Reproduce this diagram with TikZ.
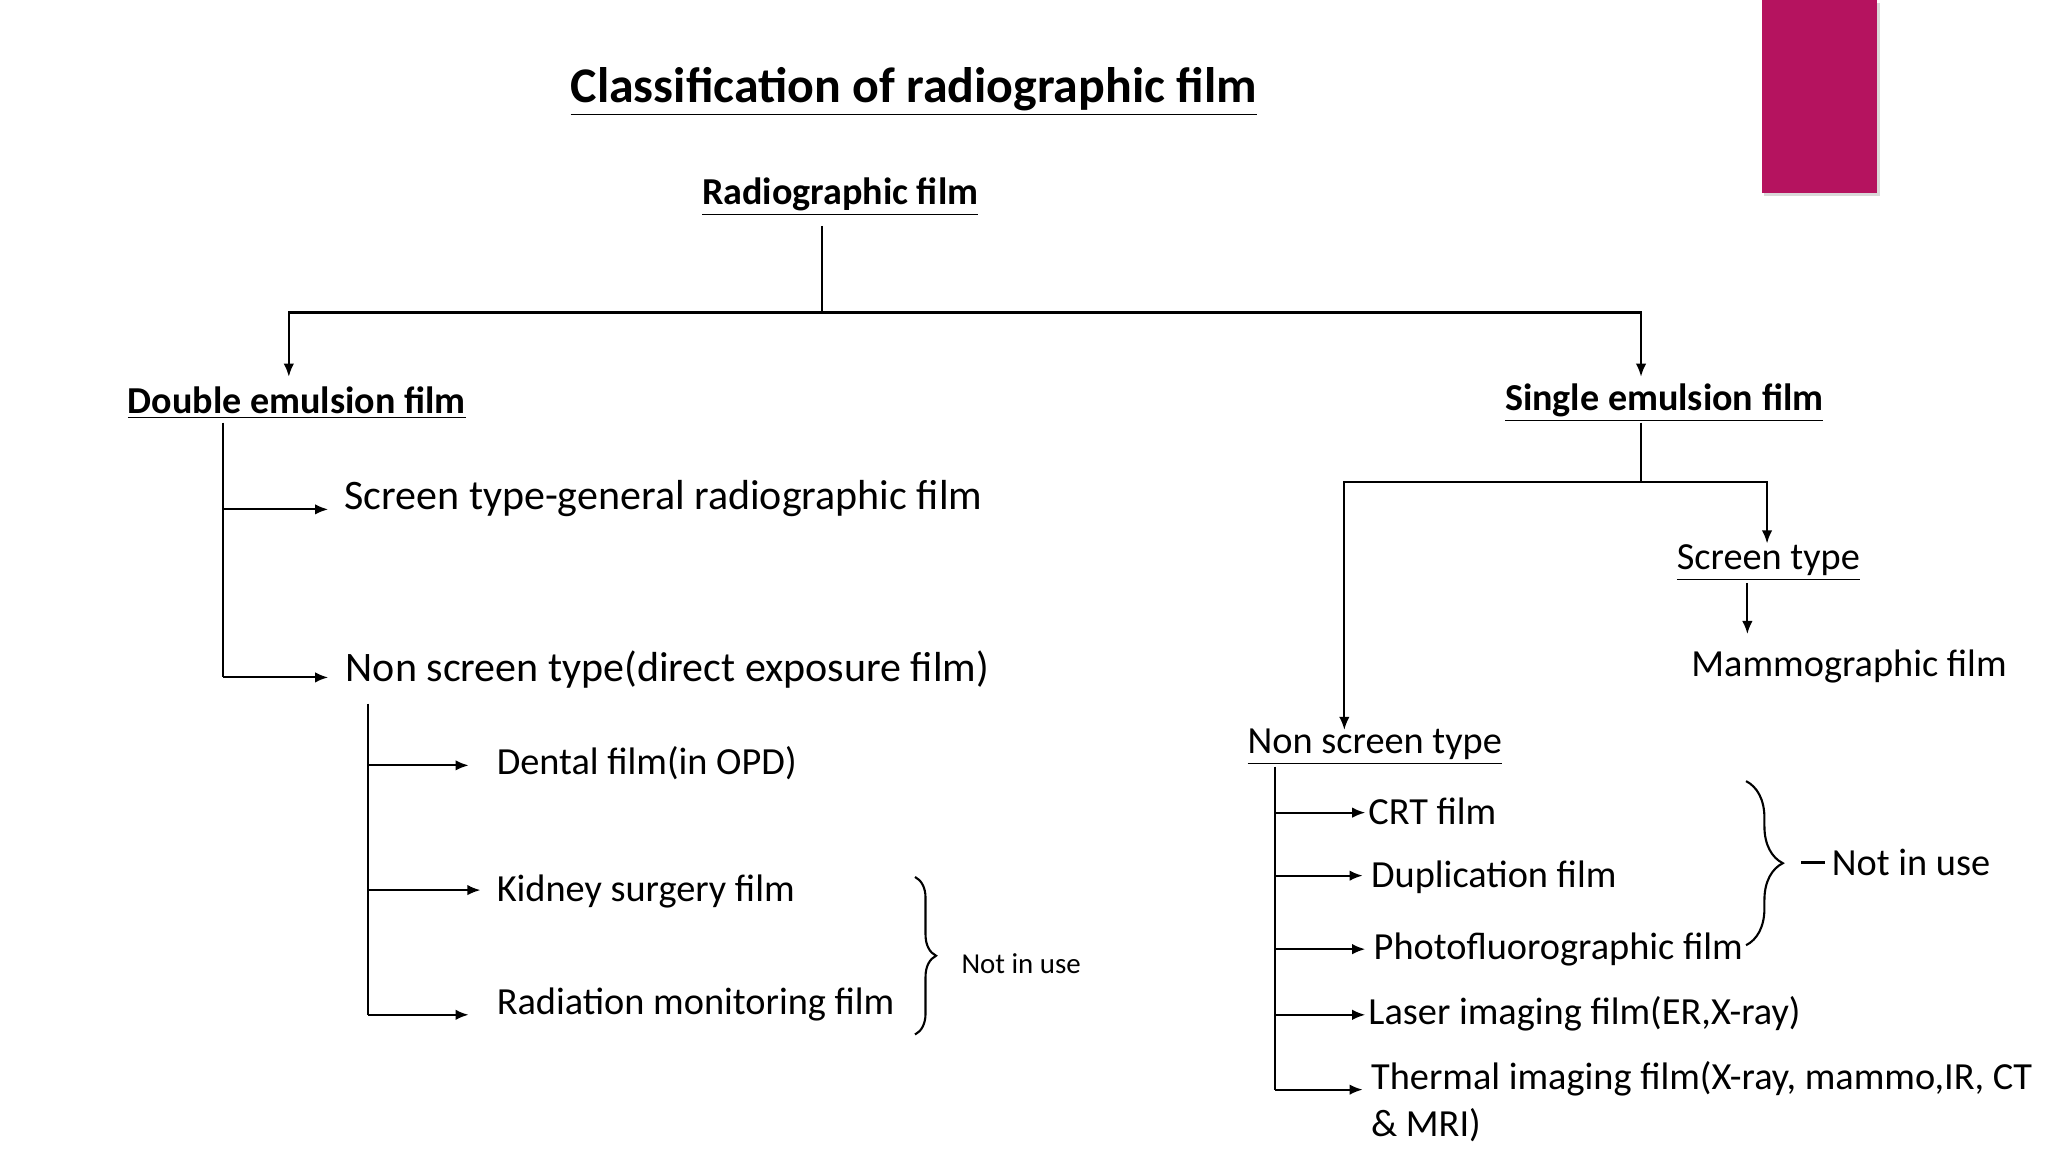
\documentclass[tikz,border=0pt]{standalone}
\usepackage{fontspec}
\setmainfont{Carlito}
\usetikzlibrary{arrows.meta,decorations.pathreplacing,shadows}
\definecolor{mag}{HTML}{B5135F}
\begin{document}
\begin{tikzpicture}[x=0.5pt,y=-0.5pt,
  lbl/.style={inner sep=0pt,font=\fontsize{14.6}{17}\selectfont},
  big/.style={inner sep=0pt,font=\fontsize{16}{19}\selectfont},
  hd/.style={inner sep=0pt,font=\bfseries\fontsize{14.5}{17}\selectfont},
  arr/.style={-{Latex[length=5pt,width=4pt]},line width=0.8pt},
  ln/.style={line width=0.8pt}]
\useasboundingbox (0,0) rectangle (1560,877.5);
\fill[mag,drop shadow={opacity=0.3,shadow xshift=1pt,shadow yshift=-1pt}] (1342,0) rectangle (1430,147);
\node[inner sep=0pt,font=\bfseries\fontsize{19}{22}\selectfont] (title) at (696,70) {\underline{Classification of radiographic film}};
\node[hd] (rf) at (640,150) {\underline{Radiographic film}};
\node[hd,anchor=west] (de) at (97,307) {\underline{Double emulsion film}};
\node[hd,anchor=west] (se) at (1146,307) {\underline{Single emulsion film}};
\coordinate (rfb) at (626,172);
\coordinate (hj) at (626,238);
\draw[ln] (rfb) -- (hj);
\draw[arr] (hj) -| (220,287);
\draw[arr] (hj) -| (1250,287);
% left
\node[big,anchor=west] (st) at (262,380) {Screen type-general radiographic film};
\node[big,anchor=west] (ns) at (263,510) {Non screen type(direct exposure film)};
\coordinate (dl) at (170,322);
\draw[ln] (dl) -- (170,516);
\draw[arr] (170,388) -- (250,388);
\draw[arr] (170,516) -- (250,516);
\node[lbl,anchor=west] (dent) at (378,581) {Dental film(in OPD)};
\node[lbl,anchor=west] (kid) at (378,679) {Kidney surgery film};
\node[lbl,anchor=west] (rad) at (378,765) {Radiation monitoring film};
\draw[ln] (280,536) -- (280,773);
\draw[arr] (280,583) -- (357,583);
\draw[arr] (280,678) -- (366,678);
\draw[arr] (280,773) -- (357,773);
\draw[ln,decorate,decoration={brace,amplitude=8}] (697,668) -- (697,788);
\node[inner sep=0pt,font=\fontsize{11}{13}\selectfont,anchor=west] (niu1) at (732,734) {Not in use};
% right
\draw[ln] (1250,322) -- (1250,367);
\draw[arr] (1250,367) -| (1024,556);
\draw[arr] (1250,367) -| (1346,414);
\node[lbl] (scr) at (1347,429) {\underline{Screen type}};
\node[lbl,anchor=west] (mam) at (1288,508) {Mammographic film};
\draw[arr] (1331,444) -- (1331,483);
\node[lbl,anchor=west] (nst) at (950,569) {\underline{Non screen type}};
\draw[ln] (971,584) -- (971,830);
\node[lbl,anchor=west] (crt) at (1042,618) {CRT film};
\node[lbl,anchor=west] (dup) at (1044,668) {Duplication film};
\node[lbl,anchor=west] (pho) at (1046,723) {Photofluorographic film};
\node[lbl,anchor=west] (las) at (1042,772) {Laser imaging film(ER,X-ray)};
\node[lbl,anchor=west] (the) at (1044,822) {Thermal imaging film(X-ray, mammo,IR, CT};
\node[lbl,anchor=west] (mri) at (1044,857) {\& MRI)};
\draw[arr] (971,619) -- (1040,619);
\draw[arr] (971,667) -- (1038,667);
\draw[arr] (971,723) -- (1040,723);
\draw[arr] (971,773) -- (1040,773);
\draw[arr] (971,830) -- (1038,830);
\draw[ln,decorate,decoration={brace,amplitude=14}] (1330,595) -- (1330,720);
\draw[ln] (1372,657) -- (1390,657);
\node[lbl,anchor=west] (niu2) at (1395,657) {Not in use};
\end{tikzpicture}
\end{document}
